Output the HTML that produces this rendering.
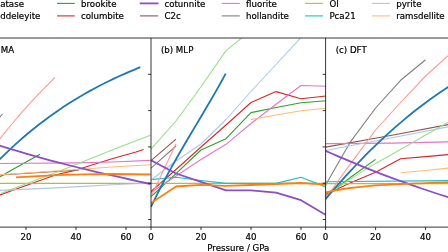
<!DOCTYPE html>
<html><head><meta charset="utf-8"><title>Phase enthalpy vs pressure</title>
<style>html,body{margin:0;padding:0;background:#fff;overflow:hidden}svg{display:block}text{font-family:"DejaVu Sans","Liberation Sans",sans-serif;font-size:8.4px;fill:#000;stroke:#000;stroke-width:0.2px}</style></head><body>
<svg width="448" height="252" viewBox="0 0 448 252">
<rect width="448" height="252" fill="#fff"/>
<defs><clipPath id="ca"><rect x="-10" y="38.0" width="161.0" height="189.1"/></clipPath><clipPath id="cb"><rect x="151.0" y="38.0" width="174.60000000000002" height="189.1"/></clipPath><clipPath id="cc"><rect x="325.6" y="38.0" width="134.39999999999998" height="189.1"/></clipPath></defs>
<g fill="none" stroke-linejoin="round" stroke-linecap="butt">
<polyline points="-5.0,179.6 0.0,176.8 8.2,172.0 40.0,154.3" stroke="#2ca02c" stroke-width="1.1" clip-path="url(#ca)"/>
<polyline points="-5.0,196.7 0.0,194.9 15.0,189.5 56.0,174.8 76.0,170.1 84.0,167.6 112.0,158.8 136.0,152.0 143.6,149.5" stroke="#d62728" stroke-width="1.1" clip-path="url(#ca)"/>
<polyline points="-5.0,175.3 0.0,175.0 79.0,170.0" stroke="#8c564b" stroke-width="1.1" clip-path="url(#ca)"/>
<polyline points="-5.0,163.5 0.0,163.5 76.0,162.9 112.0,162.0 150.5,160.4" stroke="#e377c2" stroke-width="1.1" clip-path="url(#ca)"/>
<polyline points="-5.0,120.0 0.0,117.0 2.5,114.0" stroke="#7f7f7f" stroke-width="1.1" clip-path="url(#ca)"/>
<polyline points="-5.0,183.4 150.5,183.4" stroke="#bcbd22" stroke-width="1.1" clip-path="url(#ca)"/>
<polyline points="-5.0,190.7 0.0,190.4 56.0,187.9 84.0,186.4 112.0,184.7 135.0,183.8 150.5,183.4" stroke="#aec7e8" stroke-width="1.1" clip-path="url(#ca)"/>
<polyline points="-5.0,175.1 0.0,174.8 84.0,169.0 112.0,167.0 150.5,164.8" stroke="#ffbb78" stroke-width="1.1" clip-path="url(#ca)"/>
<polyline points="1.0,193.5 7.0,191.0 56.0,172.6 76.0,164.4 84.0,161.3 112.0,150.0 150.5,135.2" stroke="#98df8a" stroke-width="1.1" clip-path="url(#ca)"/>
<polyline points="-6.0,146.2 -1.0,139.8 4.0,133.6 9.0,127.5 14.0,121.5 19.0,115.7 24.0,109.9 29.0,104.4 34.0,98.9 39.0,93.6 44.0,88.4 49.0,83.4 54.0,78.4 55.0,77.5" stroke="#ff9896" stroke-width="1.1" clip-path="url(#ca)"/>
<polyline points="-6.0,165.1 -1.0,160.0 4.0,155.1 9.0,150.3 14.0,145.6 19.0,141.1 24.0,136.8 29.0,132.5 34.0,128.5 39.0,124.5 44.0,120.7 49.0,117.0 54.0,113.4 59.0,109.9 64.0,106.6 69.0,103.3 74.0,100.2 79.0,97.2 84.0,94.2 89.0,91.4 94.0,88.7 99.0,86.0 104.0,83.5 109.0,81.0 114.0,78.6 119.0,76.3 124.0,74.1 129.0,71.9 134.0,69.8 139.0,67.7 140.3,67.2" stroke="#1f77b4" stroke-width="1.8" clip-path="url(#ca)"/>
<polyline points="-6.0,143.7 2.0,146.3 10.0,148.8 18.0,151.2 26.0,153.6 34.0,155.9 42.0,158.1 50.0,160.3 58.0,162.4 66.0,164.5 74.0,166.5 82.0,168.5 90.0,170.4 98.0,172.3 106.0,174.1 114.0,175.9 122.0,177.7 130.0,179.5 138.0,181.3 146.0,183.0 150.5,184.0" stroke="#8a4fc8" stroke-width="1.8" clip-path="url(#ca)"/>
<polyline points="15.9,177.3 56.0,175.2 84.0,174.3 112.0,174.0 150.5,174.5" stroke="#ff7f0e" stroke-width="1.8" clip-path="url(#ca)"/>
<polyline points="151.0,196.8 176.0,173.6 201.0,150.0 226.0,138.7 251.0,112.6 276.0,107.5 301.0,102.7 326.0,100.8" stroke="#2ca02c" stroke-width="1.1" clip-path="url(#cb)"/>
<polyline points="151.0,191.6 176.0,169.5 201.0,147.0 226.0,125.0 251.0,102.5 276.0,91.6 301.0,98.7 326.0,96.0" stroke="#d62728" stroke-width="1.1" clip-path="url(#cb)"/>
<polyline points="151.0,160.6 176.0,139.2" stroke="#8c564b" stroke-width="1.1" clip-path="url(#cb)"/>
<polyline points="151.0,192.5 176.0,176.0 201.0,159.5 226.0,144.3 251.0,123.5 276.0,104.3 301.0,85.5 326.0,86.3" stroke="#e377c2" stroke-width="1.1" clip-path="url(#cb)"/>
<polyline points="151.0,168.2 176.0,146.0" stroke="#7f7f7f" stroke-width="1.1" clip-path="url(#cb)"/>
<polyline points="151.0,183.4 326.0,183.4" stroke="#bcbd22" stroke-width="1.1" clip-path="url(#cb)"/>
<polyline points="151.0,179.6 176.0,177.3 201.0,180.5 226.0,183.4 251.0,183.4 276.0,183.4 301.0,177.3 326.0,186.9" stroke="#17becf" stroke-width="1.1" clip-path="url(#cb)"/>
<polyline points="151.0,180.0 176.0,161.0 201.0,144.0 226.0,119.5 251.0,91.5 276.0,64.5 301.0,37.5 326.0,10.5" stroke="#aec7e8" stroke-width="1.1" clip-path="url(#cb)"/>
<polyline points="251.0,119.6 276.0,115.0 301.0,110.7 326.0,108.2" stroke="#ffbb78" stroke-width="1.1" clip-path="url(#cb)"/>
<polyline points="151.0,149.1 176.0,121.0 201.0,86.8 226.0,50.6 251.0,30.5" stroke="#98df8a" stroke-width="1.1" clip-path="url(#cb)"/>
<polyline points="151.0,196.8 176.0,143.8" stroke="#ff9896" stroke-width="1.1" clip-path="url(#cb)"/>
<polyline points="151.0,206.8 156.0,196.6 161.0,186.8 166.0,177.3 171.0,168.1 176.0,159.2 181.0,150.5 186.0,142.0 191.0,133.5 196.0,125.1 201.0,116.7 206.0,108.3 211.0,99.8 216.0,91.1 221.0,82.2 225.7,73.6" stroke="#1f77b4" stroke-width="1.8" clip-path="url(#cb)"/>
<polyline points="151.0,160.2 176.0,173.5 201.0,181.9 226.0,190.3 251.0,190.3 276.0,192.6 301.0,200.2 326.0,215.0" stroke="#8a4fc8" stroke-width="1.8" clip-path="url(#cb)"/>
<polyline points="151.0,203.0 176.0,186.5 201.0,184.8 226.0,185.9 251.0,185.0 276.0,184.0 301.0,183.0 326.0,184.6" stroke="#ff7f0e" stroke-width="1.8" clip-path="url(#cb)"/>
<polyline points="325.6,196.5 350.6,177.3 375.6,159.4" stroke="#2ca02c" stroke-width="1.1" clip-path="url(#cc)"/>
<polyline points="325.6,194.6 350.6,182.7 375.6,172.2 400.6,158.7 425.6,156.6 450.6,154.4" stroke="#d62728" stroke-width="1.1" clip-path="url(#cc)"/>
<polyline points="325.6,147.1 392.0,135.2 448.0,124.6 452.0,123.9" stroke="#8c564b" stroke-width="1.1" clip-path="url(#cc)"/>
<polyline points="325.6,143.6 392.0,143.1 448.0,141.9 452.0,141.8" stroke="#e377c2" stroke-width="1.1" clip-path="url(#cc)"/>
<polyline points="325.6,185.0 350.6,141.6 375.6,108.0 400.6,80.3 425.6,59.8" stroke="#7f7f7f" stroke-width="1.1" clip-path="url(#cc)"/>
<polyline points="325.6,183.6 450.6,183.6" stroke="#bcbd22" stroke-width="1.1" clip-path="url(#cc)"/>
<polyline points="325.6,181.8 450.6,180.6" stroke="#17becf" stroke-width="1.1" clip-path="url(#cc)"/>
<polyline points="325.6,150.5 392.0,137.8 448.0,126.9 452.0,126.1" stroke="#aec7e8" stroke-width="1.1" clip-path="url(#cc)"/>
<polyline points="400.6,172.8 425.6,170.5 450.6,167.8" stroke="#ffbb78" stroke-width="1.1" clip-path="url(#cc)"/>
<polyline points="325.6,196.0 350.6,178.9 375.6,163.4 400.6,149.5 425.6,135.0 450.6,121.0" stroke="#98df8a" stroke-width="1.1" clip-path="url(#cc)"/>
<polyline points="325.6,198.2 350.6,163.6 375.6,130.0 400.6,102.5 425.6,76.0 450.6,53.5" stroke="#ff9896" stroke-width="1.1" clip-path="url(#cc)"/>
<polyline points="325.6,199.1 330.6,193.2 335.6,187.4 340.6,181.8 345.6,176.2 350.6,170.8 355.6,165.5 360.6,160.3 365.6,155.2 370.6,150.2 375.6,145.3 380.6,140.6 385.6,135.9 390.6,131.4 395.6,126.9 400.6,122.6 405.6,118.4 410.6,114.3 415.6,110.3 420.6,106.5 425.6,102.7 430.6,99.0 435.6,95.5 440.6,92.0 445.6,88.7 450.6,85.4 452.0,84.5" stroke="#1f77b4" stroke-width="1.8" clip-path="url(#cc)"/>
<polyline points="325.6,150.9 331.6,153.5 337.6,156.1 343.6,158.7 349.6,161.2 355.6,163.7 361.6,166.2 367.6,168.6 373.6,170.9 379.6,173.3 385.6,175.6 391.6,177.8 397.6,180.0 403.6,182.2 409.6,184.3 415.6,186.4 421.6,188.5 427.6,190.5 433.6,192.5 439.6,194.5 445.6,196.4 451.6,198.2 452.0,198.4" stroke="#8a4fc8" stroke-width="1.8" clip-path="url(#cc)"/>
<polyline points="325.6,192.5 330.6,191.4 335.6,190.4 340.6,189.5 345.6,188.7 350.6,188.0 355.6,187.3 360.6,186.8 365.6,186.3 370.6,185.8 375.6,185.4 380.6,185.1 385.6,184.8 390.6,184.5 395.6,184.3 400.6,184.0 405.6,183.8 410.6,183.6 415.6,183.4 420.6,183.3 425.6,183.1 430.6,182.9 435.6,182.7 440.6,182.6 445.6,182.4 450.6,182.2 452.0,182.1" stroke="#ff7f0e" stroke-width="1.8" clip-path="url(#cc)"/>
</g>
<g stroke="#000" stroke-width="0.8" fill="none">
<line x1="-2" y1="38.0" x2="450" y2="38.0"/>
<line x1="-2" y1="227.1" x2="450" y2="227.1"/>
<line x1="151.0" y1="38.0" x2="151.0" y2="227.1"/>
<line x1="325.6" y1="38.0" x2="325.6" y2="227.1"/>
<line x1="148.1" y1="74.3" x2="151.0" y2="74.3"/>
<line x1="148.1" y1="110.6" x2="151.0" y2="110.6"/>
<line x1="148.1" y1="146.9" x2="151.0" y2="146.9"/>
<line x1="148.1" y1="183.2" x2="151.0" y2="183.2"/>
<line x1="148.1" y1="219.5" x2="151.0" y2="219.5"/>
<line x1="322.70000000000005" y1="74.3" x2="325.6" y2="74.3"/>
<line x1="322.70000000000005" y1="110.6" x2="325.6" y2="110.6"/>
<line x1="322.70000000000005" y1="146.9" x2="325.6" y2="146.9"/>
<line x1="322.70000000000005" y1="183.2" x2="325.6" y2="183.2"/>
<line x1="322.70000000000005" y1="219.5" x2="325.6" y2="219.5"/>
<line x1="26" y1="227.1" x2="26" y2="230.0"/>
<line x1="76" y1="227.1" x2="76" y2="230.0"/>
<line x1="126" y1="227.1" x2="126" y2="230.0"/>
<line x1="151.0" y1="227.1" x2="151.0" y2="230.0"/>
<line x1="201.0" y1="227.1" x2="201.0" y2="230.0"/>
<line x1="251.0" y1="227.1" x2="251.0" y2="230.0"/>
<line x1="301.0" y1="227.1" x2="301.0" y2="230.0"/>
<line x1="325.6" y1="227.1" x2="325.6" y2="230.0"/>
<line x1="375.6" y1="227.1" x2="375.6" y2="230.0"/>
<line x1="425.6" y1="227.1" x2="425.6" y2="230.0"/>
</g>
<g text-anchor="middle">
<text transform="translate(26.00,239.80) scale(1.03,1)" text-anchor="middle">20</text>
<text transform="translate(76.00,239.80) scale(1.03,1)" text-anchor="middle">40</text>
<text transform="translate(126.00,239.80) scale(1.03,1)" text-anchor="middle">60</text>
<text transform="translate(151.00,239.80) scale(1.03,1)" text-anchor="middle">0</text>
<text transform="translate(201.00,239.80) scale(1.03,1)" text-anchor="middle">20</text>
<text transform="translate(251.00,239.80) scale(1.03,1)" text-anchor="middle">40</text>
<text transform="translate(301.00,239.80) scale(1.03,1)" text-anchor="middle">60</text>
<text transform="translate(325.60,239.80) scale(1.03,1)" text-anchor="middle">0</text>
<text transform="translate(375.60,239.80) scale(1.03,1)" text-anchor="middle">20</text>
<text transform="translate(425.60,239.80) scale(1.03,1)" text-anchor="middle">40</text>
<text transform="translate(238.30,251.00) scale(1.03,1)" text-anchor="middle">Pressure / GPa</text>
</g>
<text transform="translate(-14.10,52.60) scale(1.03,1)">(a) MA</text>
<text transform="translate(160.90,52.60) scale(1.03,1)">(b) MLP</text>
<text transform="translate(335.70,52.60) scale(1.03,1)">(c) DFT</text>
<text transform="translate(-10.60,6.95) scale(1.03,1)">anatase</text>
<text transform="translate(-10.60,19.10) scale(1.03,1)">baddeleyite</text>
<line x1="57.6" y1="3.4" x2="74.2" y2="3.4" stroke="#2ca02c" stroke-width="1.1" stroke-linecap="square"/>
<line x1="57.6" y1="15.9" x2="74.2" y2="15.9" stroke="#d62728" stroke-width="1.1" stroke-linecap="square"/>
<text transform="translate(81.00,6.95) scale(1.03,1)">brookite</text>
<text transform="translate(81.00,19.10) scale(1.03,1)">columbite</text>
<line x1="140.6" y1="3.4" x2="157.6" y2="3.4" stroke="#8a4fc8" stroke-width="1.8" stroke-linecap="square"/>
<line x1="140.6" y1="15.9" x2="157.6" y2="15.9" stroke="#8c564b" stroke-width="1.1" stroke-linecap="square"/>
<text transform="translate(164.40,6.95) scale(1.03,1)">cotunnite</text>
<text transform="translate(164.40,19.10) scale(1.03,1)">C2c</text>
<line x1="222.2" y1="3.4" x2="239.2" y2="3.4" stroke="#e377c2" stroke-width="1.1" stroke-linecap="square"/>
<line x1="222.2" y1="15.9" x2="239.2" y2="15.9" stroke="#7f7f7f" stroke-width="1.1" stroke-linecap="square"/>
<text transform="translate(246.00,6.95) scale(1.03,1)">fluorite</text>
<text transform="translate(246.00,19.10) scale(1.03,1)">hollandite</text>
<line x1="305.6" y1="3.4" x2="322.4" y2="3.4" stroke="#bcbd22" stroke-width="1.1" stroke-linecap="square"/>
<line x1="305.6" y1="15.9" x2="322.4" y2="15.9" stroke="#17becf" stroke-width="1.1" stroke-linecap="square"/>
<text transform="translate(329.40,6.95) scale(1.03,1)">OI</text>
<text transform="translate(329.40,19.10) scale(1.03,1)">Pca21</text>
<line x1="372.4" y1="3.4" x2="389.4" y2="3.4" stroke="#aec7e8" stroke-width="1.1" stroke-linecap="square"/>
<line x1="372.4" y1="15.9" x2="389.4" y2="15.9" stroke="#ffbb78" stroke-width="1.1" stroke-linecap="square"/>
<text transform="translate(396.20,6.95) scale(1.03,1)">pyrite</text>
<text transform="translate(396.20,19.10) scale(1.03,1)">ramsdellite</text>
</svg></body></html>
